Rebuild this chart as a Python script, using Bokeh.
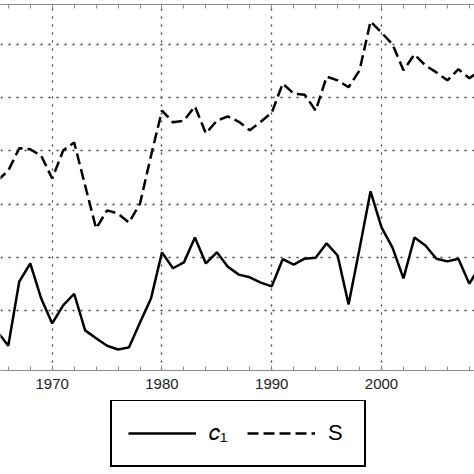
from bokeh.plotting import figure
from bokeh.layouts import column
from bokeh.models import (Range1d, LinearAxis, Grid, SingleIntervalTicker, FixedTicker,
                          Legend, LegendItem, CustomJSTickFormatter)
from bokeh.embed import file_html
from bokeh.resources import INLINE

years = list(range(1965, 2010))
c1 = [0.60, 0.33, 1.54, 1.88, 1.22, 0.75, 1.09, 1.31, 0.62, 0.47,
      0.33, 0.26, 0.30, 0.77, 1.22, 2.09, 1.79, 1.90, 2.37, 1.88,
      2.09, 1.82, 1.67, 1.62, 1.52, 1.45, 1.96, 1.86, 1.97, 1.99,
      2.26, 2.03, 1.11, 2.16, 3.24, 2.56, 2.18, 1.60, 2.37, 2.22,
      1.97, 1.92, 1.97, 1.50, 1.84]
S = [3.44, 3.63, 4.05, 4.03, 3.91, 3.48, 4.01, 4.16, 3.35, 2.54,
     2.88, 2.82, 2.65, 3.01, 3.91, 4.76, 4.54, 4.57, 4.84, 4.33,
     4.57, 4.65, 4.55, 4.39, 4.55, 4.72, 5.27, 5.08, 5.06, 4.76,
     5.40, 5.33, 5.20, 5.52, 6.44, 6.23, 6.01, 5.52, 5.82, 5.61,
     5.48, 5.33, 5.54, 5.37, 5.52]
y_grid_levels = [1, 2, 3, 4, 5, 6]
labels = ["𝑐₁", "S"]

AX = "#8a8a8a"
GRID = "#3a3a3a"

p = figure(width=474, height=400, output_backend="svg", toolbar_location=None,
           x_range=Range1d(1965.29, 2008.47), y_range=Range1d(-0.136, 6.759),
           x_axis_type=None, y_axis_type=None,
           min_border_left=0, min_border_right=0, min_border_top=4, min_border_bottom=30)
p.outline_line_color = None
p.background_fill_color = "white"
p.border_fill_color = "white"

xt = SingleIntervalTicker(interval=10, num_minor_ticks=5)

xb = LinearAxis(ticker=xt)
xb.axis_line_color = AX
xb.major_tick_line_color = AX
xb.minor_tick_line_color = AX
xb.major_tick_in = 5
xb.major_tick_out = 0
xb.minor_tick_in = 4
xb.minor_tick_out = 0
xb.major_label_standoff = 8
xb.major_label_text_font = "Liberation Sans"
xb.major_label_text_font_size = "15px"
xb.major_label_text_color = "#222222"
p.add_layout(xb, "below")

xa = LinearAxis(ticker=xt, formatter=CustomJSTickFormatter(code="return ''"))
xa.axis_line_color = AX
xa.major_tick_line_color = AX
xa.minor_tick_line_color = AX
xa.major_tick_in = 4
xa.major_tick_out = 0
xa.minor_tick_in = 4
xa.minor_tick_out = 0
xa.major_label_standoff = 0
xa.major_label_text_font_size = "1px"
p.add_layout(xa, "above")

p.add_layout(Grid(dimension=0, ticker=xt, grid_line_color=GRID,
                  grid_line_dash="2 6", grid_line_width=1.3))
p.add_layout(Grid(dimension=1, ticker=FixedTicker(ticks=y_grid_levels),
                  grid_line_color=GRID, grid_line_dash="2 6", grid_line_width=1.3))

p.line(years, c1, line_color="black", line_width=2.5)
p.line(years, S, line_color="black", line_width=2.5, line_dash="11 5")

# legend panel below the chart (series lines here fall outside its view)
p2 = figure(width=474, height=74, output_backend="svg", toolbar_location=None,
            x_range=p.x_range, y_range=Range1d(100, 101),
            x_axis_type=None, y_axis_type=None,
            min_border_left=0, min_border_right=0, min_border_top=0, min_border_bottom=0)
p2.outline_line_color = None
p2.background_fill_color = "white"
p2.border_fill_color = "white"
k1 = p2.line(years, c1, line_color="black", line_width=2.5)
k2 = p2.line(years, S, line_color="black", line_width=2.5, line_dash="11 5")

leg = Legend(items=[LegendItem(label=labels[0], renderers=[k1]),
                    LegendItem(label=labels[1], renderers=[k2])],
             orientation="horizontal", location=(110, 7))
leg.border_line_color = "black"
leg.border_line_alpha = 1
leg.border_line_width = 2
leg.background_fill_color = "white"
leg.background_fill_alpha = 1
leg.padding = 16
leg.spacing = 18
leg.margin = 0
leg.label_standoff = 13
leg.glyph_width = 68
leg.glyph_height = 32
leg.label_height = 32
leg.label_text_font = "Liberation Sans"
leg.label_text_font_size = "22px"
leg.label_text_color = "black"
p2.add_layout(leg, "center")

layout = column(p, p2, spacing=0)
open("out.html", "w").write(file_html(layout, INLINE))
